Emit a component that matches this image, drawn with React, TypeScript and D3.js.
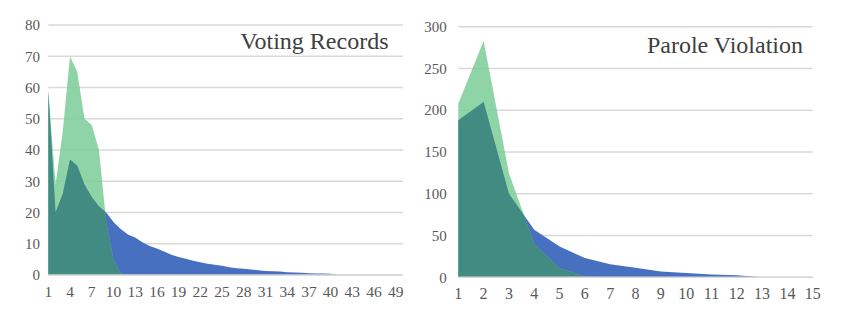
import React from "react";
import * as d3 from "d3";

const votingCategories = d3.range(1, 51);
const votingBlue = [59, 20, 26, 37, 35, 29, 25, 22, 20, 17,
  14.7, 13, 12, 10.5, 9.3, 8.5, 7.5, 6.5, 5.8, 5.2,
  4.6, 4.1, 3.6, 3.3, 3, 2.5, 2.2, 2, 1.8, 1.5,
  1.3, 1.2, 1.1, 0.9, 0.8, 0.7, 0.6, 0.5, 0.5, 0.4,
  0, 0, 0, 0, 0, 0, 0, 0, 0, 0];
const votingGreen = [59, 29, 46, 70, 65, 50, 48, 40, 17, 5,
  0.5, 0, 0, 0, 0, 0, 0, 0, 0, 0,
  0, 0, 0, 0, 0, 0, 0, 0, 0, 0,
  0, 0, 0, 0, 0, 0, 0, 0, 0, 0,
  0, 0, 0, 0, 0, 0, 0, 0, 0, 0];
const votingYTicks = [0, 10, 20, 30, 40, 50, 60, 70, 80];
const votingXLabels = d3.range(1, 51, 3);

const paroleCategories = d3.range(1, 16);
const paroleBlue = [188, 210, 100, 57, 37, 23, 15.5, 11.5, 7, 5, 3.5, 2.5, 0, 0, 0];
const paroleGreen = [208, 283, 125, 40, 11, 1, 0, 0, 0, 0, 0, 0, 0, 0, 0];
const paroleYTicks = [0, 50, 100, 150, 200, 250, 300];
const paroleXLabels = d3.range(1, 16);

const BLUE = "#4870c0";
const GREEN = "#7bcc97";
const TEAL = "#428b82";
const GRID = "#d9d9d9";
const FONT = "'Liberation Serif', 'Times New Roman', serif";

type PanelProps = {
  id: string;
  title: string;
  categories: number[];
  blue: number[];
  green: number[];
  yTicks: number[];
  xLabels: number[];
  x0: number; x1: number; y0: number; y1: number;
  yMax: number;
  labelRight: number;
  xLabelY: number;
  titleX: number; titleY: number;
  xFont: number;
};

function Panel(p: PanelProps) {
  const x = d3.scalePoint<number>().domain(p.categories).range([p.x0, p.x1]);
  const y = d3.scaleLinear().domain([0, p.yMax]).range([p.y0, p.y1]);
  const area = d3.area<number>()
    .x((_, i) => x(p.categories[i]) as number)
    .y0(y(0))
    .y1((d) => y(d));
  const bluePath = area(p.blue) || "";
  const greenPath = area(p.green) || "";
  return (
    <g>
      <defs>
        <clipPath id={p.id + "-clip"}>
          <path d={greenPath} />
        </clipPath>
      </defs>
      {p.yTicks.map((t) => (
        <g key={t}>
          <line x1={p.x0} x2={p.x1} y1={y(t)} y2={y(t)} stroke={GRID} strokeWidth={1.5} />
          <text x={p.labelRight} y={y(t)} dy="0.35em" textAnchor="end" fontFamily={FONT} fontSize={15} fill="#595959">{t}</text>
        </g>
      ))}
      <path d={bluePath} fill={BLUE} />
      <path d={greenPath} fill={GREEN} fillOpacity={0.85} />
      <path d={bluePath} fill={TEAL} clipPath={`url(#${p.id}-clip)`} />
      <line x1={p.x0} x2={p.x1} y1={y(0)} y2={y(0)} stroke={GRID} strokeWidth={1.5} />
      {p.xLabels.map((c) => (
        <text key={c} x={x(c) as number} y={p.xLabelY} textAnchor="middle" fontFamily={FONT} fontSize={p.xFont} fill="#595959">{c}</text>
      ))}
      <text x={p.titleX} y={p.titleY} textAnchor="end" fontFamily={FONT} fontSize={24} fill="#404040">{p.title}</text>
    </g>
  );
}

export default function App() {
  return (
    <svg width={846} height={321} style={{ position: "absolute", left: 0, top: 0, background: "#fff" }}>
      <rect width={846} height={321} fill="#fff" />
      <Panel id="voting" title="Voting Records" categories={votingCategories} blue={votingBlue} green={votingGreen}
        yTicks={votingYTicks} xLabels={votingXLabels} x0={48.3} x1={403} y0={275} y1={25} yMax={80}
        labelRight={40} xLabelY={297} titleX={388.5} titleY={48.5} xFont={15.5} />
      <Panel id="parole" title="Parole Violation" categories={paroleCategories} blue={paroleBlue} green={paroleGreen}
        yTicks={paroleYTicks} xLabels={paroleXLabels} x0={458.3} x1={812.7} y0={277.3} y1={26.7} yMax={300}
        labelRight={446.7} xLabelY={299} titleX={803} titleY={52.5} xFont={16} />
    </svg>
  );
}
